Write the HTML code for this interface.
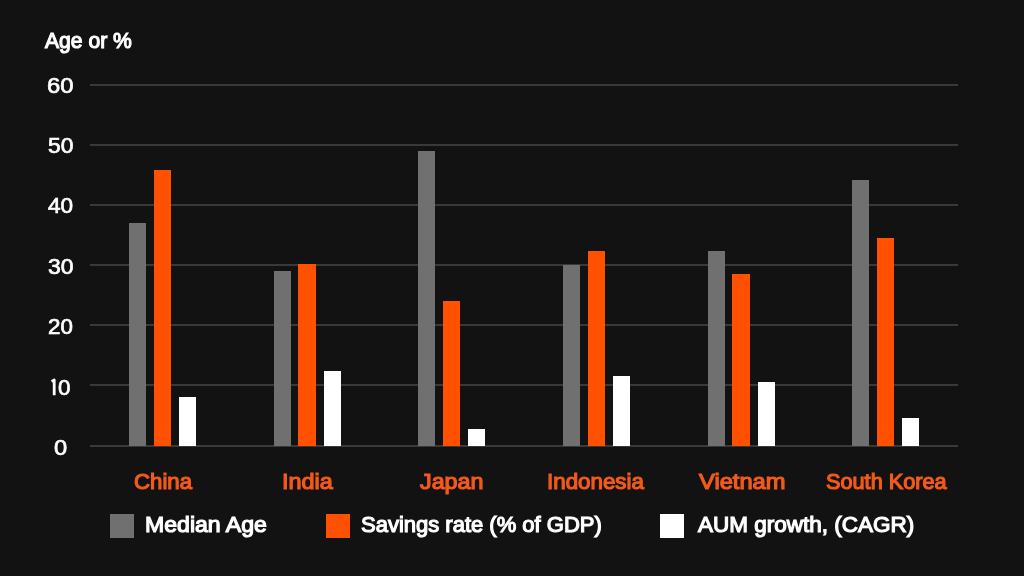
<!DOCTYPE html>
<html><head><meta charset="utf-8"><style>
html,body{margin:0;padding:0;}
body{width:1024px;height:576px;background:#121212;position:relative;overflow:hidden;font-family:"Liberation Sans",sans-serif;font-weight:normal;}
.g{position:absolute;left:90px;width:868px;height:2px;background:#393939;}
.b{position:absolute;width:17.2px;}
.t{position:absolute;white-space:nowrap;line-height:1;transform-origin:0 0;-webkit-text-stroke:1.3px currentColor;}
.sq{position:absolute;width:24px;height:24px;}
</style></head><body><div id="w" style="position:absolute;left:0;top:0;width:1024px;height:576px;filter:blur(0.4px)">
<div class="g" style="top:83.50px"></div>
<div class="g" style="top:143.68px"></div>
<div class="g" style="top:203.86px"></div>
<div class="g" style="top:264.04px"></div>
<div class="g" style="top:324.22px"></div>
<div class="g" style="top:384.40px"></div>
<div class="g" style="top:444.58px"></div>
<div class="b" style="left:128.83px;top:222.50px;height:223.20px;background:#707070"></div>
<div class="b" style="left:153.73px;top:170.00px;height:275.70px;background:#ff5100"></div>
<div class="b" style="left:178.83px;top:396.80px;height:48.90px;background:#ffffff"></div>
<div class="b" style="left:273.50px;top:271.10px;height:174.60px;background:#707070"></div>
<div class="b" style="left:298.40px;top:264.10px;height:181.60px;background:#ff5100"></div>
<div class="b" style="left:323.50px;top:370.60px;height:75.10px;background:#ffffff"></div>
<div class="b" style="left:418.17px;top:150.90px;height:294.80px;background:#707070"></div>
<div class="b" style="left:443.07px;top:301.30px;height:144.40px;background:#ff5100"></div>
<div class="b" style="left:468.17px;top:429.00px;height:16.70px;background:#ffffff"></div>
<div class="b" style="left:562.83px;top:264.60px;height:181.10px;background:#707070"></div>
<div class="b" style="left:587.73px;top:251.10px;height:194.60px;background:#ff5100"></div>
<div class="b" style="left:612.83px;top:376.00px;height:69.70px;background:#ffffff"></div>
<div class="b" style="left:707.50px;top:251.20px;height:194.50px;background:#707070"></div>
<div class="b" style="left:732.40px;top:274.00px;height:171.70px;background:#ff5100"></div>
<div class="b" style="left:757.50px;top:381.70px;height:64.00px;background:#ffffff"></div>
<div class="b" style="left:852.17px;top:180.40px;height:265.30px;background:#707070"></div>
<div class="b" style="left:877.07px;top:238.30px;height:207.40px;background:#ff5100"></div>
<div class="b" style="left:902.17px;top:417.80px;height:27.90px;background:#ffffff"></div>
<div class="t" id="age" style="left:45.40px;top:30.00px;font-size:22px;color:#fff;transform:scale(0.9598,1);-webkit-text-stroke-width:1.2px">Age or %</div>
<div class="t" id="y60" style="left:47.20px;top:75.00px;font-size:22px;color:#fff;transform:scale(1.0851,1);-webkit-text-stroke-width:0.7px">60</div>
<div class="t" id="y50" style="left:48.20px;top:135.20px;font-size:22px;color:#fff;transform:scale(1.0381,1);-webkit-text-stroke-width:0.7px">50</div>
<div class="t" id="y40" style="left:48.40px;top:195.40px;font-size:22px;color:#fff;transform:scale(1.0258,1);-webkit-text-stroke-width:0.7px">40</div>
<div class="t" id="y30" style="left:48.20px;top:256.20px;font-size:22px;color:#fff;transform:scale(1.0417,1);-webkit-text-stroke-width:0.7px">30</div>
<div class="t" id="y20" style="left:48.00px;top:316.00px;font-size:22px;color:#fff;transform:scale(1.0169,1);-webkit-text-stroke-width:0.7px">20</div>
<div class="t" id="y10" style="left:57.80px;top:377.00px;font-size:22px;color:#fff;transform:scale(1.0185,1);-webkit-text-stroke-width:0.7px">0</div>
<div class="t" id="y0" style="left:54.00px;top:437.00px;font-size:22px;color:#fff;transform:scale(1.0772,1);-webkit-text-stroke-width:0.7px">0</div>
<div class="t" id="c0" style="left:134.00px;top:471.00px;font-size:22px;color:#f35a1a;transform:scale(1.0104,1);-webkit-text-stroke-width:1.2px">China</div>
<div class="t" id="c1" style="left:281.60px;top:471.00px;font-size:22px;color:#f35a1a;transform:scale(1.0638,1);-webkit-text-stroke-width:1.2px">India</div>
<div class="t" id="c2" style="left:420.00px;top:471.00px;font-size:22px;color:#f35a1a;transform:scale(1.0585,1);-webkit-text-stroke-width:1.2px">Japan</div>
<div class="t" id="c3" style="left:547.00px;top:471.00px;font-size:22px;color:#f35a1a;transform:scale(1.0158,1);-webkit-text-stroke-width:1.2px">Indonesia</div>
<div class="t" id="c4" style="left:698.80px;top:471.00px;font-size:22px;color:#f35a1a;transform:scale(1.0776,1);-webkit-text-stroke-width:1.2px">Vietnam</div>
<div class="t" id="c5" style="left:825.60px;top:471.00px;font-size:22px;color:#f35a1a;transform:scale(0.9861,1);-webkit-text-stroke-width:1.2px">South Korea</div>
<div class="t" id="l1" style="left:145.20px;top:514.00px;font-size:22px;color:#fff;transform:scale(1.0487,1);-webkit-text-stroke-width:1.2px">Median Age</div>
<div class="t" id="l2" style="left:361.20px;top:514.00px;font-size:22px;color:#fff;transform:scale(0.9996,1);-webkit-text-stroke-width:1.2px">Savings rate (% of GDP)</div>
<div class="t" id="l3" style="left:698.00px;top:514.00px;font-size:22px;color:#fff;transform:scale(1.0222,1);-webkit-text-stroke-width:1.2px">AUM growth, (CAGR)</div>
<svg style="position:absolute;left:0;top:0" width="100" height="460"><path d="M51.6,381.6 L54.2,379.9 L54.2,395.3" fill="none" stroke="#fff" stroke-width="2.8" stroke-linejoin="round"/></svg>
<div class="sq" style="left:110px;top:514px;background:#707070"></div>
<div class="sq" style="left:326px;top:514px;background:#ff5100"></div>
<div class="sq" style="left:660px;top:514px;background:#ffffff"></div>
</div></body></html>
